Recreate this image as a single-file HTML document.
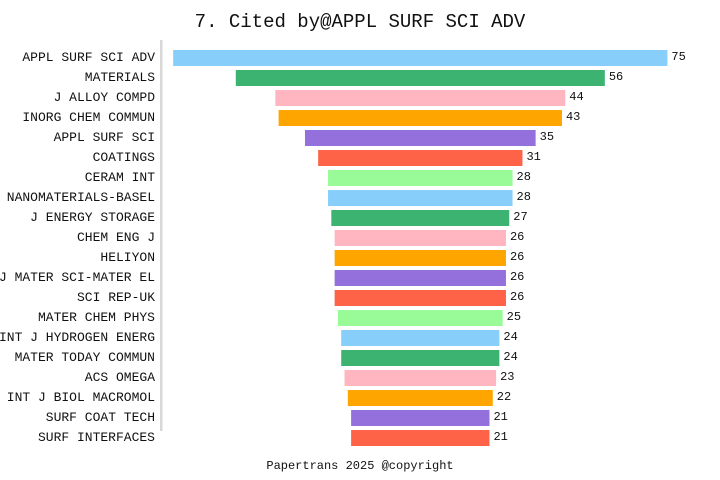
<!DOCTYPE html>
<html><head><meta charset="utf-8"><style>body{margin:0;background:#fff}svg{display:block}text{font-family:"WenQuanYi Zen Hei","Liberation Mono",monospace;fill:#111}</style></head><body>
<svg width="720" height="480" viewBox="0 0 720 480">
<text x="360" y="27" font-size="19" text-anchor="middle">7. Cited by@APPL SURF SCI ADV</text>
<rect x="160" y="40" width="2.5" height="391" fill="#d8d8d8"/>
<g id="bars"></g>
<text x="360" y="469" font-size="12" text-anchor="middle">Papertrans 2025 @copyright</text>
</svg>
<script>
const d=[["APPL SURF SCI ADV",75,"#87cefa"],["MATERIALS",56,"#3cb371"],["J ALLOY COMPD",44,"#ffb6c1"],["INORG CHEM COMMUN",43,"#ffa500"],["APPL SURF SCI",35,"#9370db"],["COATINGS",31,"#ff6347"],["CERAM INT",28,"#98fb98"],["NANOMATERIALS-BASEL",28,"#87cefa"],["J ENERGY STORAGE",27,"#3cb371"],["CHEM ENG J",26,"#ffb6c1"],["HELIYON",26,"#ffa500"],["J MATER SCI-MATER EL",26,"#9370db"],["SCI REP-UK",26,"#ff6347"],["MATER CHEM PHYS",25,"#98fb98"],["INT J HYDROGEN ENERG",24,"#87cefa"],["MATER TODAY COMMUN",24,"#3cb371"],["ACS OMEGA",23,"#ffb6c1"],["INT J BIOL MACROMOL",22,"#ffa500"],["SURF COAT TECH",21,"#9370db"],["SURF INTERFACES",21,"#ff6347"]];
let s="";d.forEach((r,i)=>{const y=50+i*20,w=r[1]*6.59,x=420.3-w/2;
s+=`<rect x="${x}" y="${y}" width="${w}" height="16" fill="${r[2]}"/>`;
s+=`<text x="155" y="${y+11}" font-size="13" text-anchor="end">${r[0]}</text>`;
s+=`<text x="${x+w+4}" y="${y+10}" font-size="12">${r[1]}</text>`;});
document.getElementById("bars").innerHTML=s;
</script>
</body></html>
